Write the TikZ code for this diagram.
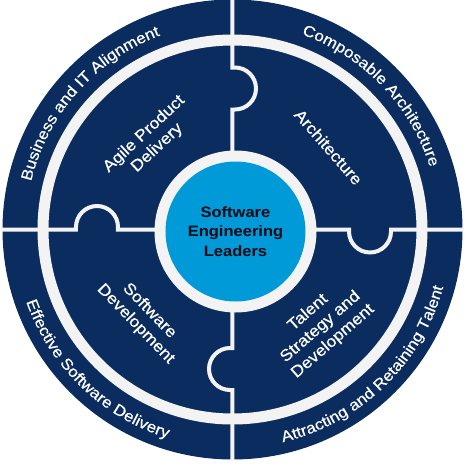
\documentclass[tikz,border=0pt]{standalone}
\usepackage{fontspec}
\setmainfont[FakeStretch=1.1]{Liberation Sans}
\newfontfamily\medfont[FakeStretch=1.1, FakeBold=0.6]{Liberation Sans}
\usetikzlibrary{decorations.text}

\newcommand{\ringfont}{\medfont\fontsize{15.5}{15.5}\selectfont\color{white}}

\begin{document}
\begin{tikzpicture}[x=1pt, y=1pt,
    seam/.style={draw=gap, line width=4},
    piece/.style={text=white, align=center, font=\medfont\fontsize{16}{19}\selectfont},
    hub/.style={circle, fill=hubblue, minimum size=140, inner sep=0,
        align=center, text=hubtext, font=\fontsize{15}{19.5}\selectfont\bfseries},
    ringtext/.style={decorate, decoration={text along path, text align=center, text={|\ringfont|#1}}}]
    \definecolor{navy}{HTML}{0B2C5F}
    \definecolor{gap}{HTML}{F3F3F3}
    \definecolor{hubblue}{HTML}{009AD8}
    \definecolor{hubtext}{HTML}{0A0A14}
    % \draw[help lines] (-230,-230) grid[step=50] (230,230);
    \useasboundingbox (-232.5,-237.5) rectangle (241.5,229.5);
    \path[fill=navy] (0,0) circle[radius=230];
    \draw[gap, line width=11] (0,0) circle[radius=189.5];

    % puzzle seams
    \draw[seam] (0,231) -- (0,162) -- (2.5,162) arc[start angle=90, end angle=-90, radius=21]
        -- (0,120) -- (0,-118.5) -- (-2.5,-118.5) arc[start angle=90, end angle=270, radius=21]
        -- (0,-160.5) -- (0,-231);
    \draw[seam] (-231,0) -- (-156.5,0) -- (-156.5,2.5) arc[start angle=180, end angle=0, radius=21]
        -- (-114.5,0) -- (116.5,0) -- (116.5,-2) arc[start angle=180, end angle=360, radius=21]
        -- (158.5,0) -- (231,0);

    \path[fill=gap] (3,-2) circle[radius=81];
    \node[hub] (hub) at (3,-2) {Software\\Engineering\\Leaders};

    \node[piece, rotate=43] (agile) at (-81.8,88.5) {Agile Product\\Delivery};
    \node[piece, rotate=-49] (arch) at (96,82.5) {Architecture};
    \node[piece, rotate=-46] (dev) at (-90,-88) {Software\\Development};
    \node[piece, rotate=41] (talent) at (88,-97.5) {Talent\\Strategy and\\Development};

    \path[ringtext=Business and IT Alignment] (198.5:207) arc[start angle=198.5, end angle=78.5, radius=207];
    \path[ringtext=Composable Architecture] (104:207) arc[start angle=104, end angle=-16, radius=207];
    \path[ringtext=Effective Software Delivery] (166:218.5) arc[start angle=166, end angle=286, radius=218.5];
    \path[ringtext=Attracting and Retaining Talent] (254:218.5) arc[start angle=254, end angle=374, radius=218.5];
\end{tikzpicture}
\end{document}
